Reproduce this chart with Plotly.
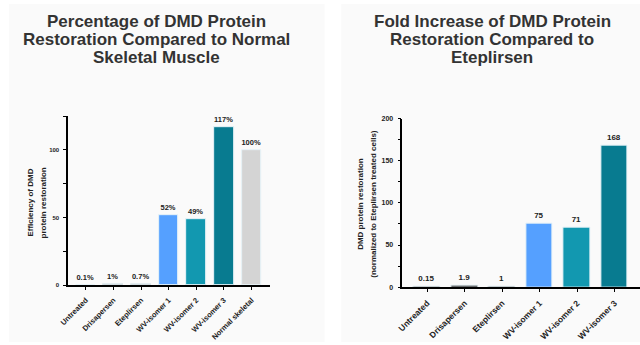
import plotly.graph_objects as go

W, H = 640, 345

# ---- data ----
left_categories = ["Untreated", "Drisapersen", "Eteplirsen", "WV-isomer 1",
                   "WV-isomer 2", "WV-isomer 3", "Normal skeletal"]
left_values = [0.1, 1, 0.7, 52, 49, 117, 100]
left_labels = ["0.1%", "1%", "0.7%", "52%", "49%", "117%", "100%"]
left_colors = ["#1c1c1c", "#1c1c1c", "#1c1c1c", "#55a0ff", "#1298b0", "#087b90", "#d4d4d4"]

right_categories = ["Untreated", "Drisapersen", "Eteplirsen", "WV-isomer 1",
                    "WV-isomer 2", "WV-isomer 3"]
right_values = [0.15, 1.9, 1, 75, 71, 168]
right_labels = ["0.15", "1.9", "1", "75", "71", "168"]
right_colors = ["#1c1c1c", "#1c1c1c", "#1c1c1c", "#55a0ff", "#1298b0", "#087b90"]

left_title_lines = ["Percentage of DMD Protein", "Restoration Compared to Normal",
                    "Skeletal Muscle"]
right_title_lines = ["Fold Increase of DMD Protein", "Restoration Compared to",
                     "Eteplirsen"]
left_ytitle_lines = ["Efficiency of DMD", "protein restoration"]
right_ytitle_lines = ["DMD protein restoration", "(normalized to Eteplirsen treated cells)"]

FONT = "Liberation Sans"
TXT = "#222222"

def px_x(x):
    return x / W

def px_y(y):
    return (H - y) / H

fig = go.Figure()

fig.add_trace(go.Bar(
    x=list(range(len(left_categories))), y=left_values,
    marker=dict(color=left_colors, line=dict(color="#e6f2f7", width=1)),
    width=0.71, text=left_labels, textposition="outside", constraintext="none",
    cliponaxis=False,
    textfont=dict(family=FONT, size=7.5, color=TXT, weight="bold"),
    xaxis="x", yaxis="y", showlegend=False, hoverinfo="skip"))

fig.add_trace(go.Bar(
    x=list(range(len(right_categories))), y=right_values,
    marker=dict(color=right_colors, line=dict(color="#e6f2f7", width=1)),
    width=0.71, text=right_labels, textposition="outside", constraintext="none",
    cliponaxis=False,
    textfont=dict(family=FONT, size=8, color=TXT, weight="bold"),
    xaxis="x2", yaxis="y2", showlegend=False, hoverinfo="skip"))

axis_common = dict(showgrid=False, zeroline=False, showline=True, linecolor="#000000",
                   linewidth=1.6, ticks="outside", ticklen=3, tickwidth=1.2,
                   tickcolor="#000000", ticklabelstandoff=3)

annotations = []
title_y = [18, 36.5, 55]
for line, yy in zip(left_title_lines, title_y):
    annotations.append(dict(text=line, xref="paper", yref="paper", x=px_x(150), y=px_y(yy),
                            xanchor="center", yanchor="middle", showarrow=False,
                            font=dict(family=FONT, size=17, color="#333333", weight="bold")))
for line, yy in zip(right_title_lines, title_y):
    annotations.append(dict(text=line, xref="paper", yref="paper", x=px_x(490), y=px_y(yy),
                            xanchor="center", yanchor="middle", showarrow=False,
                            font=dict(family=FONT, size=17, color="#333333", weight="bold")))
for line, xx in zip(left_ytitle_lines, [22, 35]):
    annotations.append(dict(text=line, xref="paper", yref="paper", x=px_x(xx), y=px_y(203),
                            xanchor="center", yanchor="middle", showarrow=False, textangle=-90,
                            font=dict(family=FONT, size=8, color=TXT, weight="bold")))
for line, xx in zip(right_ytitle_lines, [357, 370]):
    annotations.append(dict(text=line, xref="paper", yref="paper", x=px_x(xx), y=px_y(204),
                            xanchor="center", yanchor="middle", showarrow=False, textangle=-90,
                            font=dict(family=FONT, size=8, color=TXT, weight="bold")))

fig.update_layout(
    width=W, height=H,
    margin=dict(l=0, r=0, t=0, b=0),
    paper_bgcolor="#ffffff", plot_bgcolor="rgba(0,0,0,0)",
    bargap=0,
    xaxis=dict(domain=[px_x(60), px_x(265)], range=[-0.64, 6.68], anchor="y",
               tickmode="array", tickvals=list(range(len(left_categories))),
               ticktext=left_categories, tickangle=-45,
               tickfont=dict(family=FONT, size=7.5, color=TXT, weight="bold"),
               **axis_common),
    yaxis=dict(domain=[px_y(287), px_y(114.5)], range=[0, 125], anchor="x",
               tickvals=[0, 50, 100],
               tickfont=dict(family=FONT, size=6, color=TXT, weight="bold"),
               minor=dict(ticks="outside", tickvals=[25, 75, 125], ticklen=3,
                          tickcolor="#000000", tickwidth=1.2),
               **axis_common),
    xaxis2=dict(domain=[px_x(399), 1.0], range=[-0.66, 5.68], anchor="y2",
                tickmode="array", tickvals=list(range(len(right_categories))),
                ticktext=right_categories, tickangle=-45,
                tickfont=dict(family=FONT, size=8.5, color=TXT, weight="bold"),
                **axis_common),
    yaxis2=dict(domain=[px_y(289), px_y(117)], range=[0, 200], anchor="x2",
                tickvals=[0, 50, 100, 150, 200],
                tickfont=dict(family=FONT, size=7, color=TXT, weight="bold"),
                minor=dict(ticks="outside", tickvals=[25, 75, 125, 175], ticklen=3,
                           tickcolor="#000000", tickwidth=1.2),
                **axis_common),
    shapes=[
        dict(type="rect", xref="paper", yref="paper", x0=0, x1=px_x(320), y0=0, y1=1,
             fillcolor="#fafafa", line=dict(width=0), layer="below"),
        dict(type="rect", xref="paper", yref="paper", x0=px_x(337), x1=1, y0=0, y1=1,
             fillcolor="#fafafa", line=dict(width=0), layer="below"),
    ],
    annotations=annotations,
)

fig.write_html("out.html")
